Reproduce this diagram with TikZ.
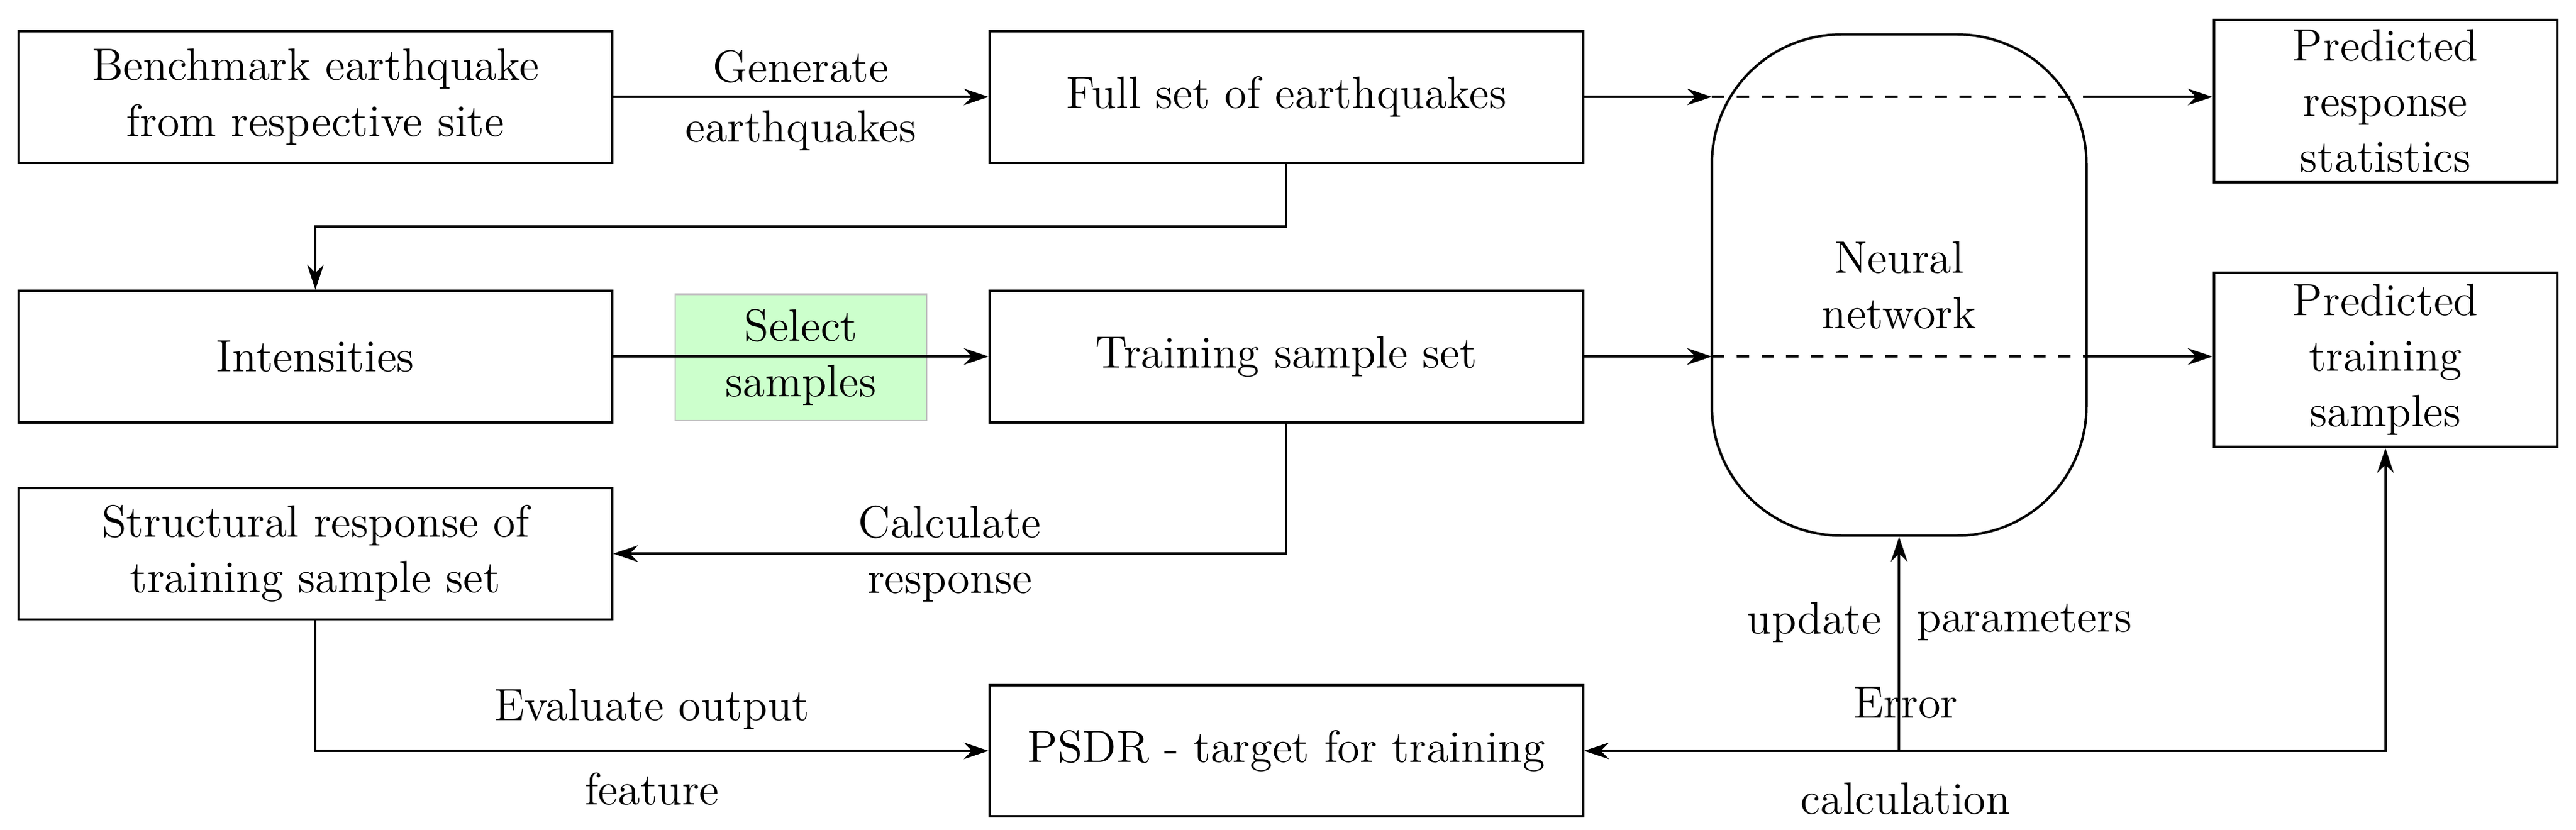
\documentclass[tikz,border=0pt]{standalone}
\usetikzlibrary{arrows.meta}
\begin{document}
\begin{tikzpicture}[x=0.014cm,y=-0.014cm,
  box/.style={draw,semithick,minimum width=361*0.014cm,minimum height=80*0.014cm,align=center,inner sep=1pt},
  sbox/.style={draw,semithick,minimum width=209*0.014cm,align=center,inner sep=1pt},
  arr/.style={semithick,-{Stealth[length=6pt,width=4pt]}},
  lbl/.style={align=center,inner sep=1pt},
  font=\fontsize{11}{13.5}\selectfont]
\useasboundingbox (0,0) rectangle (1568,505);
\node[box] (bench) at (192,59) {Benchmark earthquake\\from respective site};
\node[box] (full) at (783,59) {Full set of earthquakes};
\node[draw,semithick,rounded corners=1.1cm,minimum width=228*0.014cm,minimum height=305*0.014cm,align=center] (nn) at (1156,173.5) {Neural\\network};
\node[sbox,minimum height=99*0.014cm] (prs) at (1452,61.5) {Predicted\\response\\statistics};
\node[box] (int) at (192,217) {Intensities};
\node[fill=green!20,draw=black!25,minimum width=153*0.014cm,minimum height=77*0.014cm,align=center,inner sep=1pt] (sel) at (487.5,217.5) {Select\\samples};
\node[box] (train) at (783,217) {Training sample set};
\node[sbox,minimum height=106*0.014cm] (pts) at (1452,219) {Predicted\\training\\samples};
\node[box] (struct) at (192,337) {Structural response of\\training sample set};
\node[box] (psdr) at (783,457) {PSDR - target for training};
\coordinate (nnA) at (1042,59);
\coordinate (nnB) at (1270,59);
\coordinate (nnC) at (1042,217);
\coordinate (nnD) at (1270,217);
\coordinate (err) at (1156,457);

\draw[arr] (bench) -- (full) node[lbl,midway,above=2pt] {Generate} node[lbl,midway,below=2pt] {earthquakes};
\draw[arr] (full.south) |- (192,138) -- (int.north);
\draw[arr] (int.east) -- (train.west);
\draw[arr] (full.east) -- (nnA);
\draw[semithick,dashed] (nnA) -- (nnB);
\draw[arr] (nnB) -- (prs.west|-nnB);
\draw[arr] (train.east) -- (nnC);
\draw[semithick,dashed] (nnC) -- (nnD);
\draw[arr] (nnD) -- (pts.west|-nnD);
\draw[arr] (train.south) |- (struct.east) node[lbl,pos=0.75,align=center] {Calculate\\response};
\draw[arr] (struct.south) |- (psdr.west) node[lbl,pos=0.75,above=4pt] {Evaluate output} node[lbl,pos=0.75,below=4pt] {feature};
\draw[arr] (err) -| (pts.south);
\draw[arr] (err) -- (psdr.east);
\node[lbl,inner sep=0pt] at (1160,457) {Error\\[0.9em]calculation};
\draw[arr] (err) -- (nn.south) node[lbl,pos=0.6,left=3pt] {update} node[lbl,pos=0.6,right=3pt] {parameters};
\end{tikzpicture}
\end{document}
